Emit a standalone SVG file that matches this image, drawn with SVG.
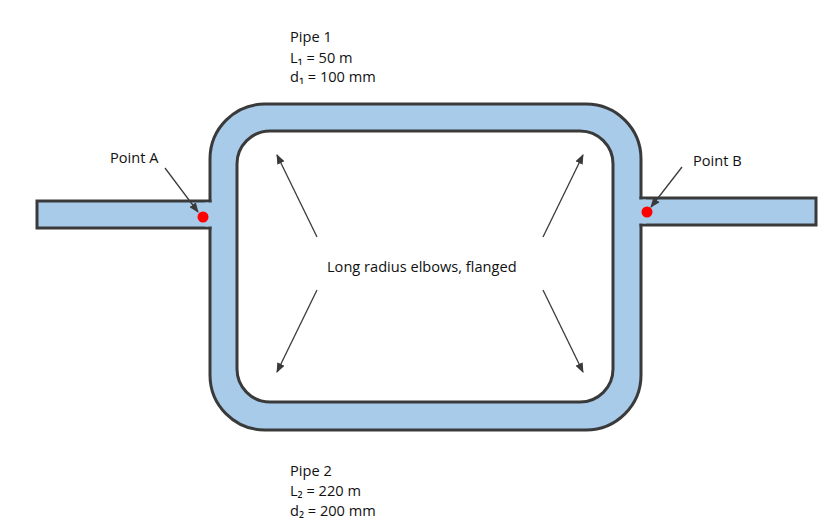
<svg xmlns="http://www.w3.org/2000/svg" width="831" height="528" viewBox="0 0 831 528">
<style>
.p{fill:#a9cbea;stroke:#3a3a3a;stroke-width:3}
.t{font-family:"Open Sans","Liberation Sans",Arial,sans-serif;font-size:14.6px;fill:#111}
.a{stroke:#3a3a3a;stroke-width:1.3;fill:none;marker-end:url(#m)}
</style>
<defs><marker id="m" markerWidth="10" markerHeight="8" refX="9" refY="4" orient="auto" markerUnits="userSpaceOnUse"><path d="M0,0L10,4L0,8z" fill="#3a3a3a"/></marker></defs>
<g id="pipes">
<rect class="p" x="210" y="104" width="431" height="326" rx="55"/>
<rect class="p" x="37" y="201" width="173" height="27"/>
<rect class="p" x="641" y="198" width="175" height="27"/>
<rect x="205" y="202.5" width="10" height="24" fill="#a9cbea"/>
<rect x="636" y="199.5" width="10" height="24" fill="#a9cbea"/>
<rect x="237" y="131" width="376" height="271" rx="33" fill="#fff" stroke="#3a3a3a" stroke-width="3"/>
</g>
<g id="pointA"><circle cx="203" cy="217" r="5.5" fill="#f00"/><text class="t" x="110" y="163">Point A</text></g>
<g id="pointB"><circle cx="647" cy="212" r="5.5" fill="#f00"/><text class="t" x="693" y="166">Point B</text></g>
<g id="pipe1"><text class="t" x="290" y="42">Pipe 1</text><text class="t" x="290" y="63">L₁ = 50 m</text><text class="t" x="290" y="82">d₁ = 100 mm</text></g>
<g id="pipe2"><text class="t" x="290" y="476">Pipe 2</text><text class="t" x="290" y="496">L₂ = 220 m</text><text class="t" x="290" y="516">d₂ = 200 mm</text></g>
<g id="label"><text class="t" x="327" y="272">Long radius elbows, flanged</text></g>
<g id="connectors">
<path class="a" d="M165,168L198,212"/>
<path class="a" d="M682,167L651,207"/>
<path class="a" d="M317,237L277,155"/>
<path class="a" d="M543,237L583,155"/>
<path class="a" d="M317,290L277,372"/>
<path class="a" d="M543,290L583,372"/>
</g>
</svg>
